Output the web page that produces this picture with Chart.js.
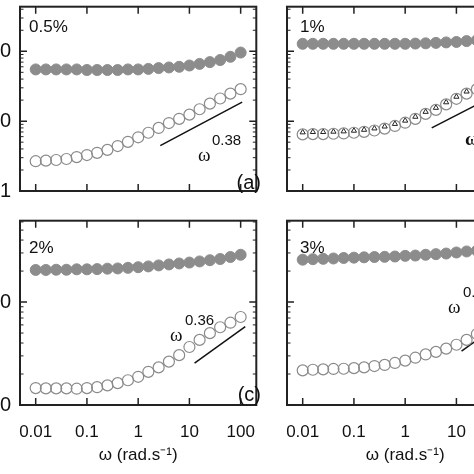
<!DOCTYPE html>
<html><head><meta charset="utf-8">
<script src="https://cdn.jsdelivr.net/npm/chart.js@4.4.0/dist/chart.umd.min.js"></script>
<style>
html,body{margin:0;padding:0;width:474px;height:474px;overflow:hidden;background:#fff;position:relative}
.p{position:absolute}
</style></head><body>
<div class="p" style="left:-30px;top:0px;width:293px;height:201px"><canvas id="ca"></canvas></div>
<div class="p" style="left:237px;top:0px;width:293px;height:201px"><canvas id="cb"></canvas></div>
<div class="p" style="left:-30px;top:214px;width:293px;height:251px"><canvas id="cc"></canvas></div>
<div class="p" style="left:237px;top:214px;width:293px;height:251px"><canvas id="cd"></canvas></div>
<script>
const omega = [0.01,0.0158,0.0251,0.0398,0.0631,0.1,0.158,0.251,0.398,0.631,1,1.58,2.51,3.98,6.31,10,15.8,25.1,39.8,63.1,100];
const xTicks = [0.01,0.1,1,10,100];
const xTickLabels = ['0.01','0.1','1','10','100'];
const yTicksTop = [1,10,100];
const yTicksBottom = [10,100];

const gpA = [55,55,55,55,55,54,54,54,54,55,55,56,57.5,58.7,60,62.6,66,70,75,83.5,96];
const gppA = [2.67,2.72,2.78,2.87,3.06,3.27,3.52,3.88,4.40,5.06,5.87,6.82,8.0,9.4,10.8,12.4,14.8,17.8,21.1,24.8,28.7];
const gpB = [128,128,128,128,128,128,128,128,128,128,128,129,130,132,134,136,140,144,148,153,158];
const gppB = [6.46,6.53,6.53,6.6,6.67,6.82,7.03,7.35,7.83,8.53,9.5,10.8,12.7,14.5,17.4,20.9,24.8,28.7,33,38,43];
const gpC = [205,205,206,206,208,208,209,211,212,215,218,222,227,232,237,242,248,255,262,274,288];
const gppC = [14.6,14.5,14.5,14.5,14.4,14.6,14.9,15.5,16.3,17.4,18.8,21.0,23.2,26.4,30.5,36.6,42.9,49.9,56.9,63,71.6];
const gpD = [258,261,263,265,268,270,272,274,275,277,281,283,288,292,296,303,310,316,324,333,343];
const gppD = [21.7,22.0,22.2,22.4,22.5,22.8,23.2,23.9,24.5,25.6,27.0,28.8,31.0,32.8,35.3,38.5,42.9,48.9,55.2,63,71.6];

const slopeA = [[2.7,4.45],[107,18.7]];
const slopeB = [[3.3,8.0],[100,29]];
const slopeC = [[12.6,25.5],[123,57.7]];
const slopeD = [[12.6,33.3],[100,70]];

const pts = (ys, k=1) => omega.map((x,i)=>({x, y: ys[i]*k}));
const F = 'Liberation Sans', S='Liberation Serif';

const frame = {
  id:'frame',
  afterDraw(ch, args, o){
    const c = ch.ctx, a = ch.chartArea, xs = ch.scales.x, ys = ch.scales.y;
    c.save();
    c.strokeStyle='#222'; c.lineWidth=2;
    c.strokeRect(a.left, a.top, a.right-a.left, a.bottom-a.top);
    c.lineWidth=1.5;
    c.fillStyle='#111';
    xTicks.forEach((v,i)=>{const p=xs.getPixelForValue(v);
      c.beginPath(); c.moveTo(p,a.bottom); c.lineTo(p,a.bottom-7); c.moveTo(p,a.top); c.lineTo(p,a.top+7); c.stroke();
      if (o.bottom){ c.font='17px '+F; c.textAlign='center'; c.textBaseline='middle'; c.fillText(xTickLabels[i], p, a.bottom+27); }
    });
    if (o.bottom){ c.font='17px '+F; c.textAlign='center'; c.textBaseline='middle'; c.fillText('ω (rad.s⁻¹)', (a.left+xs.getPixelForValue(100)+ (xs.getPixelForValue(0.01)-a.left))/2 + 0, a.bottom+50); }
    const yMin = ys.min, yMax = ys.max;
    for (let d=0.01; d<=10000; d*=10){
      for (let m=1;m<10;m++){
        const v=d*m; if(v<yMin*0.999||v>yMax) continue;
        const p=ys.getPixelForValue(v), L = m===1?7:3.5;
        c.lineWidth = m===1?1.5:1;
        c.beginPath(); c.moveTo(a.left,p); c.lineTo(a.left+L,p); c.moveTo(a.right,p); c.lineTo(a.right-L,p); c.stroke();
      }
    }
    if (o.yLabels){
      c.font='20px '+F; c.textAlign='right'; c.textBaseline='middle';
      o.yT.forEach(v=>c.fillText(String(v), a.left-9, ys.getPixelForValue(v)));
    }
    (o.texts||[]).forEach(t=>{
      c.font = t.font; c.textAlign = t.align||'left'; c.textBaseline='alphabetic';
      c.fillText(t.s, a.left+t.px, a.top+t.py);
    });
    c.restore();
  }
};

function make(id, gp, gpp, slope, yMin, yMax, yT, bottom, yLabels, texts, tri){
  const ds = [
    {data:pts(gp), pointRadius:5.5, pointBackgroundColor:'#8c8c8c', pointBorderColor:'#8c8c8c', pointBorderWidth:1, showLine:false},
    {data:pts(gpp), pointRadius:5.5, pointBackgroundColor:'rgba(255,255,255,0)', pointBorderColor:'#8a8a8a', pointBorderWidth:1.2, showLine:false},
    {type:'line', data:slope.map(p=>({x:p[0],y:p[1]})), borderColor:'#111', borderWidth:1.5, pointRadius:0, fill:false}
  ];
  if (tri){
    ds.push({data:pts(gp,1.05), pointStyle:'triangle', pointRadius:3, pointBackgroundColor:'#222', pointBorderColor:'#222', showLine:false});
    ds.push({data:pts(gpp,1.07), pointStyle:'triangle', pointRadius:3, pointBackgroundColor:'#fff', pointBorderColor:'#222', pointBorderWidth:1, showLine:false});
  }
  new Chart(document.getElementById(id), {
    type:'scatter',
    data:{datasets:ds},
    plugins:[frame],
    options:{
      responsive:true, maintainAspectRatio:false, animation:false,
      layout:{padding:{top:1,right:2,left:50,bottom:bottom?60:10}},
      plugins:{legend:{display:false}, tooltip:{enabled:false}, frame:{texts, bottom, yLabels, yT}},
      scales:{
        x:{type:'logarithmic', min:0.00494, max:202, display:false},
        y:{type:'logarithmic', min:yMin, max:yMax, display:false}
      }
    }
  });
}
make('ca', gpA, gppA, slopeA, 1, 435, yTicksTop, false, true, [
  {s:'0.5%', px:9, py:25, font:'17px '+F},
  {s:'ω', px:178, py:154, font:'19px '+S},
  {s:'0.38', px:192, py:138, font:'15px '+F},
  {s:'(a)', px:241, py:182, font:'20px '+F, align:'right'}
], false);
make('cb', gpB, gppB, slopeB, 1, 435, yTicksTop, false, false, [
  {s:'1%', px:13, py:25, font:'17px '+F},
  {s:'ω', px:178, py:138, font:'bold 19px '+S}
], true);
make('cc', gpC, gppC, slopeC, 10, 617, yTicksBottom, true, true, [
  {s:'2%', px:9, py:32, font:'17px '+F},
  {s:'ω', px:150, py:120, font:'19px '+S},
  {s:'0.36', px:165, py:104, font:'15px '+F},
  {s:'(c)', px:241, py:180, font:'20px '+F, align:'right'}
], false);
make('cd', gpD, gppD, slopeD, 10, 617, yTicksBottom, true, false, [
  {s:'3%', px:13, py:32, font:'17px '+F},
  {s:'ω', px:161, py:92, font:'19px '+S},
  {s:'0.36', px:176, py:76, font:'15px '+F}
], false);
</script>
</body></html>
